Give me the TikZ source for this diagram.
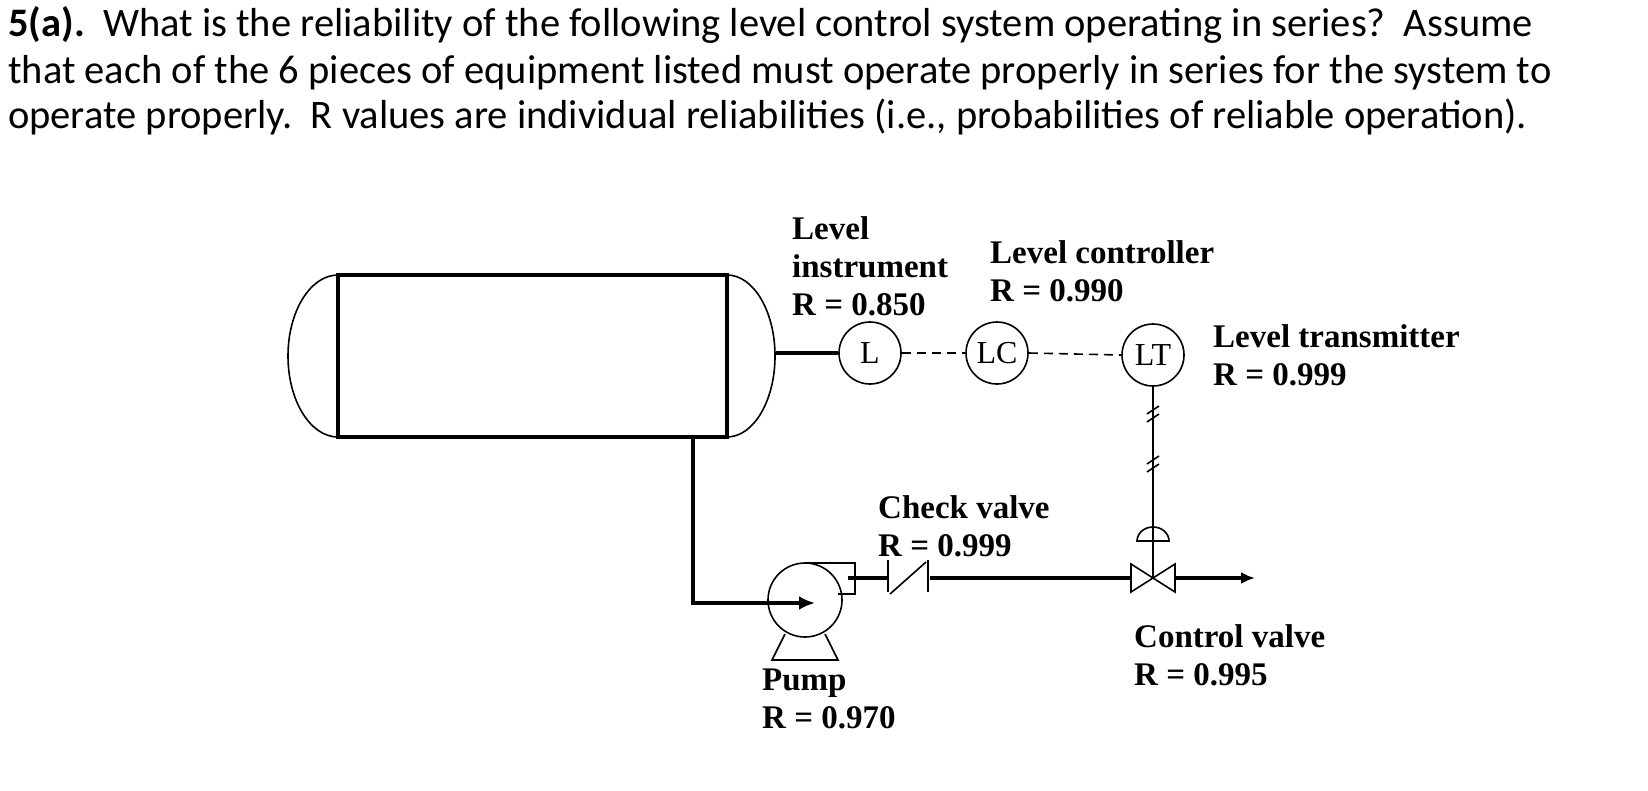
\documentclass[tikz,border=0pt]{standalone}
\usepackage{fontspec}
\usetikzlibrary{arrows.meta}
\setmainfont{Liberation Serif}
\newfontfamily\hdr{Carlito}
\begin{document}
\begin{tikzpicture}[x=1pt,y=-1pt,
  lbl/.style={anchor=west,font=\fontsize{33}{38}\selectfont\bfseries,inner sep=0,align=left},
  hd/.style={anchor=base west,font=\hdr\fontsize{40.5}{40}\selectfont,inner sep=0},
  inst/.style={circle,draw,line width=1.6,minimum size=62,inner sep=0,font=\fontsize{32}{32}\selectfont},
  pipe/.style={line width=3.5},
  thin/.style={line width=1.6}]
\useasboundingbox (0,0) rectangle (1648,790);
\node[hd] (h1) at (8,36) {\textbf{5(a).}\ \ What is the reliability of the following level control system operating in series?\ \ Assume};
\node[hd] (h2) at (8,83) {that each of the 6 pieces of equipment listed must operate properly in series for the system to};
\node[hd] (h3) at (8,128) {operate properly.\ \ R values are individual reliabilities (i.e., probabilities of reliable operation).};
% tank
\draw[thin] (338,275) arc[start angle=-90,end angle=-270,x radius=50,y radius=81];
\draw[thin] (727,275) arc[start angle=-90,end angle=90,x radius=48,y radius=81];
\draw[pipe] (338,275) rectangle (727,437);
% instruments
\node[inst] (L) at (870,353) {L};
\node[inst] (LC) at (997,353) {LC};
\node[inst] (LT) at (1153,355) {LT};
\coordinate (tk) at (776,353);
\draw[pipe] (tk) -- (L.west);
\draw[thin,dash pattern=on 9pt off 6pt] (L.east) -- (LC.west);
\draw[thin,dash pattern=on 9pt off 6pt] (LC.east) -- (LT.west);
% signal line
\coordinate (act) at (1153,541);
\draw[thin] (LT.south) -- (act);
\foreach \yy in {410,418,460,468}
  \draw[thin] (1147,\yy+4) -- (1159,\yy-4);
\draw[thin] (1137,541) arc[start angle=180,end angle=0,x radius=16,y radius=-14] -- cycle;
% control valve
\coordinate (cv) at (1153,578);
\draw[thin] (act) -- (cv);
\draw[thin] (1131,564) -- (1131,592) -- (1175,564) -- (1175,592) -- cycle;
% main line
\coordinate (out) at (1255,578);
\draw[pipe,-{Latex[length=14,width=12]}] (1175,578) -- (out);
\draw[pipe] (930,578) -- (1131,578);
% check valve
\draw[thin] (888,560) -- (888,592);
\draw[thin] (928,560) -- (928,592);
\draw[thin] (890,594) -- (926,562);
\draw[pipe] (848,578) -- (888,578);
% pump
\node[circle,draw,line width=1.6,minimum size=74,inner sep=0] (P) at (805,600) {};
\draw[thin] (805,563) -- (855,563) -- (855,594) -- (838,594);
\draw[thin] (785,634) -- (772,660) -- (838,660) -- (825,634);
\coordinate (tb) at (693,437);
\draw[pipe,-{Latex[length=16,width=14]}] (tb) -- (693,603) -- (815,603);
% labels
\node[lbl] (l1) at (792,266) {Level\\instrument\\R = 0.850};
\node[lbl] (l2) at (990,271) {Level controller\\R = 0.990};
\node[lbl] (l3) at (1213,355) {Level transmitter\\R = 0.999};
\node[lbl] (l4) at (878,526) {Check valve\\R = 0.999};
\node[lbl] (l5) at (1134,655) {Control valve\\R = 0.995};
\node[lbl] (l6) at (762,699) {Pump\\R = 0.970};
\end{tikzpicture}
\end{document}
